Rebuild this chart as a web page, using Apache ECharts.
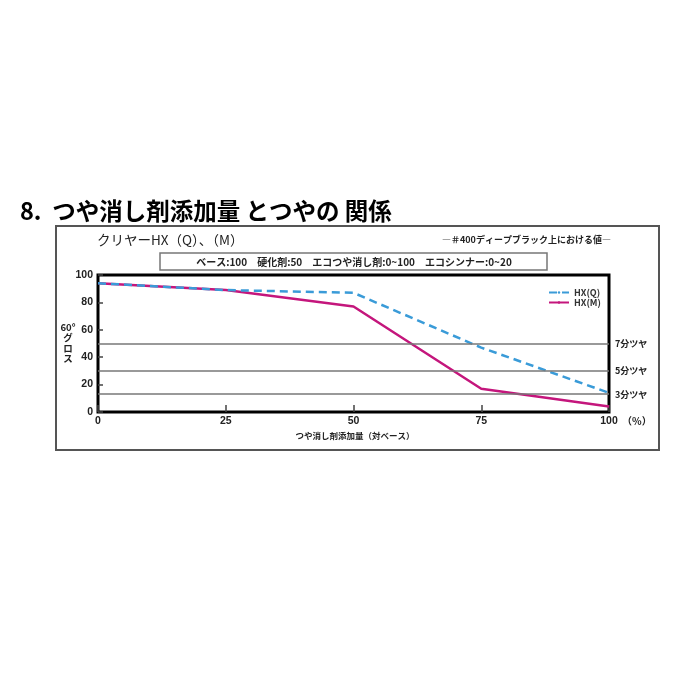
<!DOCTYPE html>
<html>
<head>
<meta charset="utf-8">
<script src="https://cdn.jsdelivr.net/npm/echarts@6/dist/echarts.min.js"></script>
<style>
html, body { margin: 0; padding: 0; background: #fff; }
#chart { width: 700px; height: 700px; }
</style>
</head>
<body>
<div id="chart"></div>
<script>
// 添加量(対ベース) %
var addAmounts = [0, 25, 50, 75, 100];
// 60°グロス
var glossQ = [94, 89, 87, 47, 14];
var glossM = [94, 89, 77, 17, 4];
var seriesNames = ['HX(Q)', 'HX(M)'];
// つや区分
var levelValues = [50, 30, 13];
var levelNames = ['7分ツヤ', '5分ツヤ', '3分ツヤ'];

var FONT = '"Noto Sans CJK JP", "Noto Sans", sans-serif';

function pairs(xs, ys) {
	var out = [];
	for (var i = 0; i < xs.length; i++) {
		out.push([xs[i], ys[i]]);
	}
	return out;
}

var levelLines = [];
for (var i = 0; i < levelValues.length; i++) {
	levelLines.push({ yAxis: levelValues[i], name: levelNames[i] });
}

var chart = echarts.init(document.getElementById('chart'));
var option = {
	backgroundColor: '#fff',
	animation: false,
	textStyle: { fontFamily: FONT },
	grid: {
		left: 98, right: 91, top: 275, bottom: 288,
		show: true, borderColor: '#000', borderWidth: 3,
		backgroundColor: 'transparent'
	},
	legend: {
		data: seriesNames,
		orient: 'vertical',
		left: 543, top: 283,
		itemWidth: 20, itemHeight: 3, itemGap: 1,
		textStyle: { fontSize: 9, fontWeight: 'bold', color: '#333', fontFamily: FONT }
	},
	xAxis: {
		type: 'value', min: 0, max: 100, interval: 25,
		axisLine: { show: false },
		splitLine: { show: false },
		axisTick: { show: true, inside: true, length: 7, lineStyle: { color: '#444', width: 1.5 } },
		axisLabel: { fontSize: 10.5, fontWeight: 'bold', color: '#222', margin: 4, fontFamily: 'Liberation Sans' }
	},
	yAxis: {
		type: 'value', min: 0, max: 100, interval: 20,
		axisLine: { show: false },
		splitLine: { show: false },
		axisTick: { show: true, inside: true, length: 5, lineStyle: { color: '#444', width: 1.5 } },
		axisLabel: { fontSize: 10.5, fontWeight: 'bold', color: '#222', margin: 5, fontFamily: 'Liberation Sans' }
	},
	series: [
		{
			name: seriesNames[0], type: 'line', symbol: 'none', z: 4,
			data: pairs(addAmounts, glossQ),
			lineStyle: { color: '#3a9bd8', width: 2.5, type: [8, 5] },
			itemStyle: { color: '#3a9bd8' },
			markLine: {
				silent: true, symbol: 'none',
				lineStyle: { color: '#777', width: 1.5, type: 'solid' },
				label: {
					show: true, position: 'end', distance: 6,
					formatter: '{b}', fontSize: 9, fontWeight: 'bold', color: '#222', fontFamily: FONT
				},
				data: levelLines
			}
		},
		{
			name: seriesNames[1], type: 'line', symbol: 'none', z: 3,
			data: pairs(addAmounts, glossM),
			lineStyle: { color: '#c4167c', width: 2.5 },
			itemStyle: { color: '#c4167c' }
		}
	],
	graphic: [
		{
			type: 'text', left: 20, top: 199,
			style: { text: '8.  つや消し剤添加量 とつやの 関係', font: 'bold 23.5px ' + FONT, fill: '#000' }
		},
		{
			type: 'rect', shape: { x: 56, y: 226, width: 603, height: 224 },
			style: { fill: 'none', stroke: '#555', lineWidth: 2 }, z: -1
		},
		{
			type: 'text', left: 97, top: 233,
			style: { text: 'クリヤーHX（Q）、（M）', font: '13.5px ' + FONT, fill: '#222' }
		},
		{
			type: 'text', left: 442, top: 235,
			style: { text: '―＃400ディープブラック上における値―', font: 'bold 9px ' + FONT, fill: '#222' }
		},
		{
			type: 'rect', shape: { x: 160, y: 253, width: 387, height: 17 },
			style: { fill: '#fff', stroke: '#777', lineWidth: 1.5 }
		},
		{
			type: 'text', x: 354, y: 262,
			style: {
				text: 'ベース:100　硬化剤:50　エコつや消し剤:0~100　エコシンナー:0~20',
				font: 'bold 10px ' + FONT, fill: '#222', align: 'center', verticalAlign: 'middle'
			}
		},
		{
			type: 'text', x: 68, y: 343,
			style: {
				text: '60°\nグ\nロ\nス', font: 'bold 9.5px ' + FONT, fill: '#222',
				align: 'center', verticalAlign: 'middle', lineHeight: 10.5
			}
		},
		{
			type: 'text', x: 355, y: 436,
			style: {
				text: 'つや消し剤添加量（対ベース）', font: 'bold 8.5px ' + FONT, fill: '#222',
				align: 'center', verticalAlign: 'middle'
			}
		},
		{
			type: 'text', x: 622, y: 421,
			style: { text: '（%）', font: 'bold 10px ' + FONT, fill: '#222', verticalAlign: 'middle' }
		}
	]
};
chart.setOption(option);
</script>
</body>
</html>
